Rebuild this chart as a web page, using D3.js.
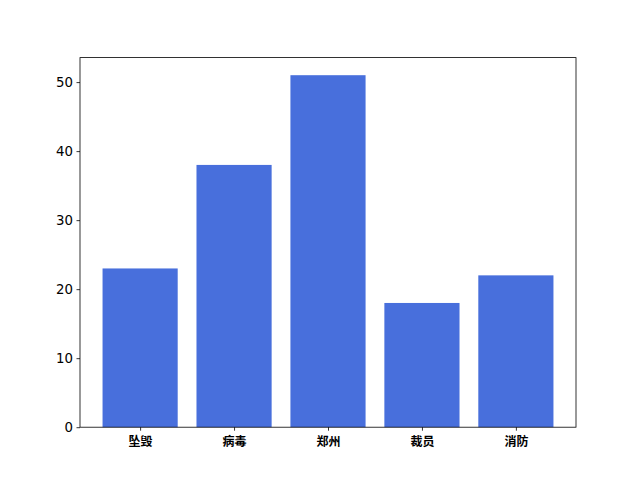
<!DOCTYPE html>
<html><head><meta charset="utf-8">
<script src="https://cdn.jsdelivr.net/npm/d3@7"></script>
<style>body{margin:0;background:#fff}</style>
</head><body>
<script>
const categories = ["坠毁","病毒","郑州","裁员","消防"];
const values = [23, 38, 51, 18, 22];
const yTicks = [0,10,20,30,40,50];

const W=640,H=480;
const m={left:80,right:576,top:57.6,bottom:427.2};
const svg=d3.select("body").append("svg").attr("width",W).attr("height",H);
const n=categories.length;
const x=d3.scaleLinear().domain([-0.64, n-1+0.64]).range([m.left,m.right]);
const y=d3.scaleLinear().domain([0, d3.max(values)*1.05]).range([m.bottom,m.top]);

svg.selectAll("rect.bar").data(values).enter().append("rect")
  .attr("x",(d,i)=>x(i-0.4)).attr("width",(d,i)=>x(i+0.4)-x(i-0.4))
  .attr("y",d=>y(d)).attr("height",d=>y(0)-y(d))
  .attr("fill","#486fdc");

const xAxis=d3.axisBottom(x).tickValues(d3.range(n)).tickFormat(i=>categories[i]).tickSize(3.5).tickPadding(7);
const gx=svg.append("g").attr("transform",`translate(0,${m.bottom})`).call(xAxis);
gx.select(".domain").remove();
gx.selectAll("text").attr("font-family","'Noto Sans CJK SC'").attr("font-size",12).attr("font-weight","bold").attr("fill","#000");
gx.selectAll("line").attr("stroke","#000").attr("stroke-width",0.8);

const yAxis=d3.axisLeft(y).tickValues(yTicks).tickSize(3.5).tickPadding(3.5);
const gy=svg.append("g").attr("transform",`translate(${m.left},0)`).call(yAxis);
gy.select(".domain").remove();
gy.selectAll("text").attr("font-family","'DejaVu Sans'").attr("font-size",13.3).attr("fill","#000");
gy.selectAll("line").attr("stroke","#000").attr("stroke-width",0.8);

svg.append("rect").attr("x",m.left).attr("y",m.top).attr("width",m.right-m.left).attr("height",m.bottom-m.top)
  .attr("fill","none").attr("stroke","#000").attr("stroke-width",0.8);
</script>
</body></html>
